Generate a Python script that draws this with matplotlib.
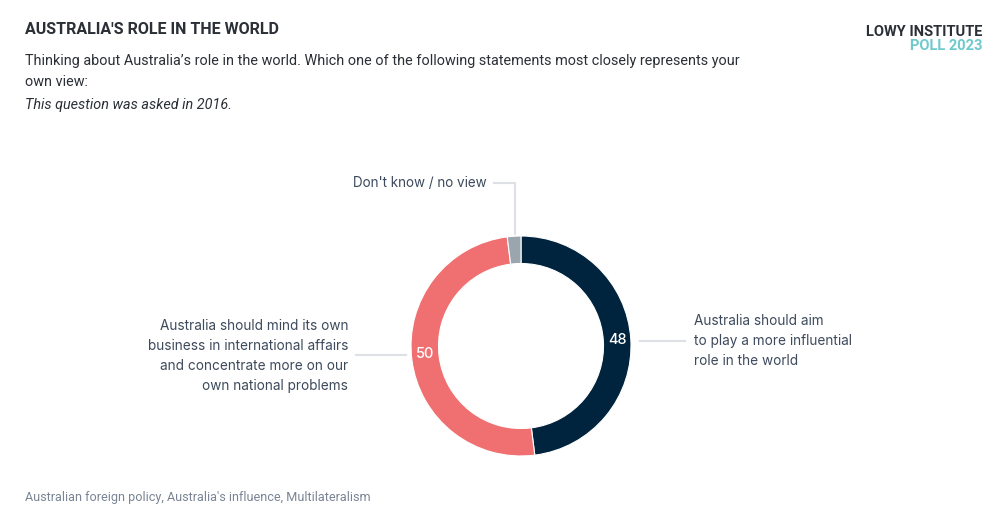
import matplotlib
matplotlib.use("Agg")
import matplotlib.pyplot as plt

labels = ["Australia should aim\nto play a more influential\nrole in the world",
          "Australia should mind its own\nbusiness in international affairs\nand concentrate more on our\nown national problems",
          "Don't know / no view"]
values = [48, 50, 2]
colors = ["#00243d", "#f07072", "#9aa5ad"]

W, H = 1000, 525
fig = plt.figure(figsize=(W / 100, H / 100), dpi=100)
plt.rcParams['font.family'] = ['Inter', 'DejaVu Sans']


def px(x, y):
    return x / W, 1 - y / H


# donut centred at (521, 346), radius 110 px
cx, cy, r = 521, 346, 110
ax = fig.add_axes([(cx - r) / W, (H - cy - r) / H, 2 * r / W, 2 * r / H])
wedges, _ = ax.pie(values, colors=colors, startangle=90, counterclock=False,
                   radius=1, wedgeprops=dict(width=0.25, edgecolor='white', linewidth=0.8))
ax.set_xlim(-1, 1)
ax.set_ylim(-1, 1)
ax.set_aspect('equal')
ax.axis('off')

# value labels on ring
ax.text(0.875, 0.05, str(values[0]), color='white', ha='center', va='center', fontsize=10.5, fontweight='medium')
ax.text(-0.875, -0.07, str(values[1]), color='white', ha='center', va='center', fontsize=10.5, fontweight='medium')

grey_line = "#dde1e5"
label_col = "#3d4a5c"

# right label
fig.add_artist(plt.Line2D([640 / W, 685 / W], [1 - 341 / H, 1 - 341 / H], color=grey_line, lw=1.5))
fig.text(*px(694, 341), labels[0], ha='left', va='center', fontsize=9.8, color=label_col, linespacing=1.55)

# left label
fig.add_artist(plt.Line2D([356 / W, 406 / W], [1 - 355 / H, 1 - 355 / H], color=grey_line, lw=1.5))
fig.text(*px(348, 356), labels[1], ha='right', va='center', fontsize=9.8, color=label_col, linespacing=1.55)

# don't know label
fig.add_artist(plt.Line2D([494 / W, 515 / W, 515 / W], [1 - 183 / H, 1 - 183 / H, 1 - 234 / H],
                          color=grey_line, lw=1.5))
fig.text(*px(487, 183), labels[2], ha='right', va='center', fontsize=9.7, color=label_col)

# header
fig.text(*px(25, 30), "AUSTRALIA'S ROLE IN THE WORLD", ha='left', va='center', fontsize=11.5,
         fontweight='bold', color='#2b2f36', family=['Roboto', 'DejaVu Sans'])
fig.text(*px(25, 61), "Thinking about Australia\u2019s role in the world. Which one of the following statements most closely represents your",
         ha='left', va='center', fontsize=10.4, color='#2b2f36', family=['Roboto', 'DejaVu Sans'])
fig.text(*px(25, 82), "own view:", ha='left', va='center', fontsize=10.4, color='#2b2f36',
         family=['Roboto', 'DejaVu Sans'])
fig.text(*px(25, 105), "This question was asked in 2016.", ha='left', va='center', fontsize=10.4,
         style='italic', color='#2b2f36', family=['Roboto', 'DejaVu Sans'])

fig.text(*px(982, 32), "LOWY INSTITUTE", ha='right', va='center', fontsize=10.5, fontweight='bold',
         color='#2b2f36', family=['Roboto', 'DejaVu Sans'])
fig.text(*px(982, 46), "POLL 2023", ha='right', va='center', fontsize=10.5, fontweight='bold',
         color='#6ec9cc', family=['Roboto', 'DejaVu Sans'])

fig.text(*px(25, 497), "Australian foreign policy, Australia's influence, Multilateralism", ha='left',
         va='center', fontsize=9.1, color='#7a8494', family=['Roboto', 'DejaVu Sans'])

fig.savefig("out.png", dpi=100, facecolor='white')
